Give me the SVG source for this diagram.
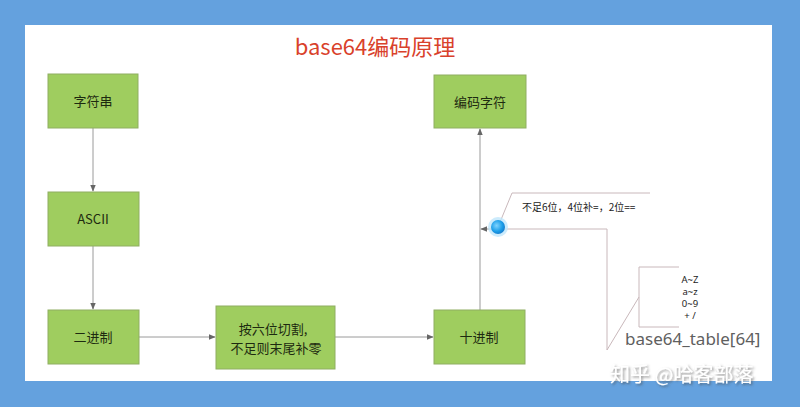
<svg xmlns="http://www.w3.org/2000/svg" width="800" height="407" viewBox="0 0 800 407">
<style>
.node rect{fill:#9fcd5f;stroke:#8fae63;stroke-width:1}
.node text{font-family:"Noto Sans CJK SC","Noto Sans",sans-serif;font-size:13px;fill:#1d2a10;text-anchor:middle}
.conn{stroke:#9a9a9a;stroke-width:1;fill:none}
.call{stroke:#c9b8bb;stroke-width:1;fill:none}
.small{font-family:"Noto Sans CJK SC","Noto Sans",sans-serif;font-size:10px;fill:#222}
.tbl{font-family:"Noto Sans","Noto Sans CJK SC",sans-serif;font-size:9.5px;fill:#222;text-anchor:middle}
</style>
<defs>
<marker id="arr" viewBox="0 0 10 10" refX="9" refY="5" markerWidth="7" markerHeight="7" orient="auto">
<path d="M0,1 L10,5 L0,9 z" fill="#666"/>
</marker>
<radialGradient id="ball" cx="0.4" cy="0.4" r="0.6">
<stop offset="0" stop-color="#7fd4ff"/>
<stop offset="0.7" stop-color="#1a9de8"/>
<stop offset="1" stop-color="#1780d0"/>
</radialGradient>
<filter id="shadow" x="-10%" y="-30%" width="120%" height="160%">
<feDropShadow dx="1.5" dy="1.5" stdDeviation="1" flood-color="#444" flood-opacity="0.6"/>
</filter>
</defs>
<rect x="0" y="0" width="800" height="407" fill="#64a1de"/>
<rect x="25" y="25" width="747" height="356" fill="#ffffff"/>
<text x="375" y="55" font-family="Noto Sans CJK SC,sans-serif" font-size="22" fill="#d9412b" text-anchor="middle">base64编码原理</text>
<g id="connectors">
<line class="conn" x1="93" y1="128" x2="93" y2="191" marker-end="url(#arr)"/>
<line class="conn" x1="93" y1="246" x2="93" y2="309" marker-end="url(#arr)"/>
<line class="conn" x1="139" y1="337" x2="215" y2="337" marker-end="url(#arr)"/>
<line class="conn" x1="335" y1="337" x2="433" y2="337" marker-end="url(#arr)"/>
<line class="conn" x1="480" y1="310" x2="480" y2="129" marker-end="url(#arr)"/>
</g>
<g id="callout-padding">
<polyline class="call" points="607,350 607,229 498,229"/>
<line class="conn" x1="492" y1="229" x2="481" y2="229" marker-end="url(#arr)"/>
<polyline class="call" points="498,227 512,193 650,193"/>
<circle cx="498" cy="227" r="10" fill="#bfe6fb" opacity="0.8"/>
<circle cx="498" cy="227" r="7" fill="url(#ball)"/>
<text class="small" x="522" y="211">不足6位，4位补=，2位==</text>
</g>
<g id="table">
<polyline class="call" points="607,350 639,297"/>
<polyline class="call" points="679,267 639,267 639,327 679,327"/>
<text class="tbl" x="690" y="283">A~Z</text>
<text class="tbl" x="690" y="295">a~z</text>
<text class="tbl" x="690" y="307">0~9</text>
<text class="tbl" x="690" y="319">+ /</text>
<text x="625" y="345" font-family="Noto Sans,sans-serif" font-size="17" fill="#5f5f5f">base64_table[64]</text>
</g>
<g id="n1" class="node"><rect x="48" y="74" width="90" height="54"/><text x="93" y="106">字符串</text></g>
<g id="n2" class="node"><rect x="48" y="192" width="91" height="54"/><text x="93" y="224">ASCII</text></g>
<g id="n3" class="node"><rect x="48" y="310" width="91" height="54"/><text x="93" y="342">二进制</text></g>
<g id="n4" class="node"><rect x="216" y="306" width="119" height="63"/><text x="273" y="334">按六位切割,</text><text x="276" y="353">不足则末尾补零</text></g>
<g id="n5" class="node"><rect x="434" y="310" width="91" height="54"/><text x="479" y="342">十进制</text></g>
<g id="n6" class="node"><rect x="434" y="75" width="92" height="53"/><text x="480" y="107">编码字符</text></g>
<g id="watermark">
<text x="610" y="382" font-family="Noto Sans CJK SC,sans-serif" font-size="20" fill="#ffffff" filter="url(#shadow)">知乎 @哈客部落</text>
</g>
</svg>
